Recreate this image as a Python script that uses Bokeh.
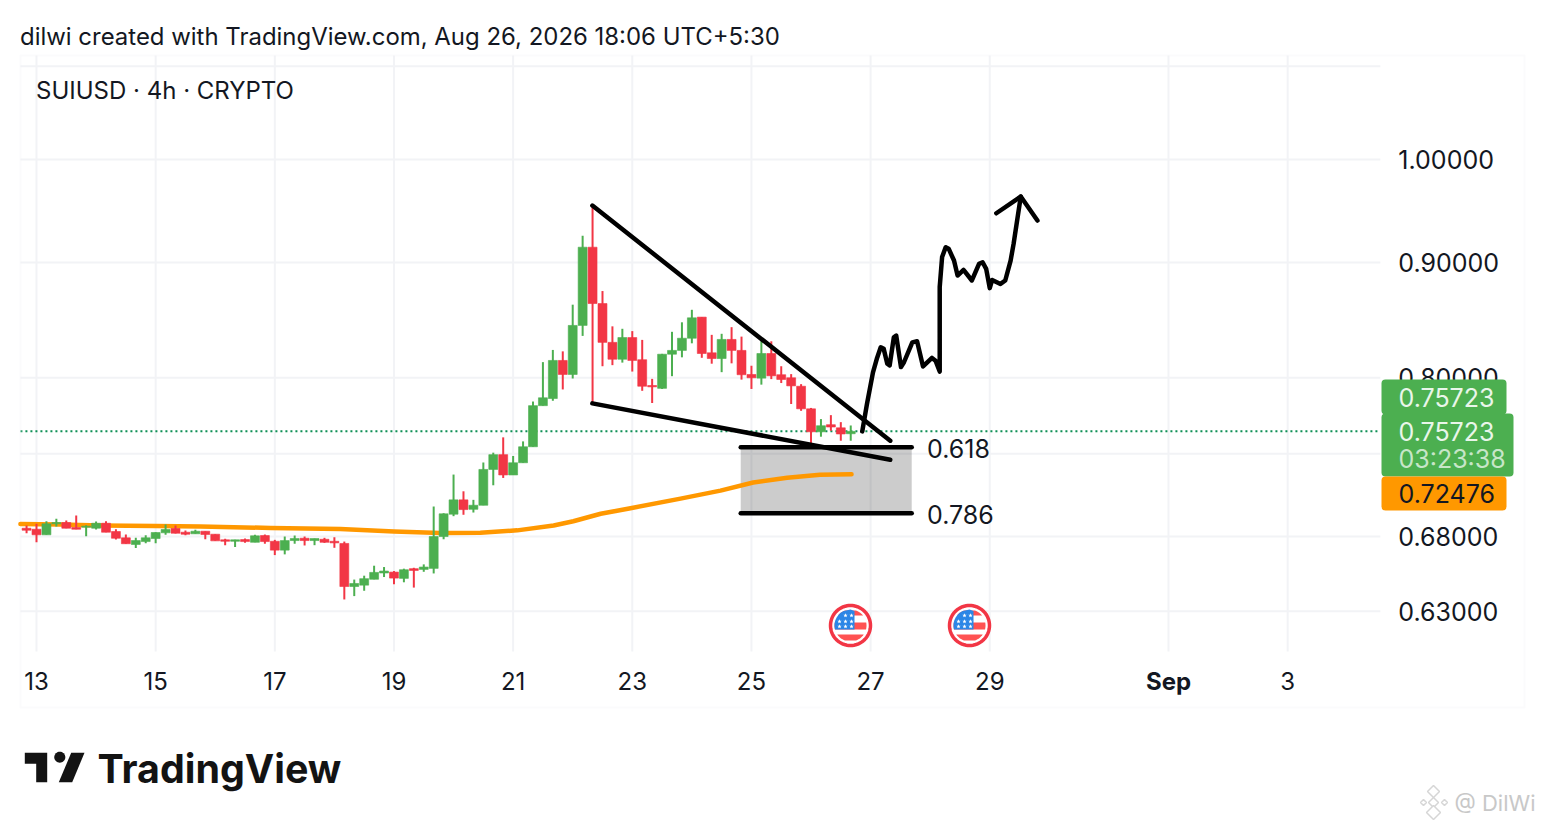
import numpy as np
from bokeh.plotting import figure
from bokeh.embed import file_html
from bokeh.resources import INLINE
from bokeh.models import (Range1d, FixedTicker, Label, BoxAnnotation, PolyAnnotation)

FONT = "Inter"

opens = [.6858,.6851,.6812,.6889,.6898,.6863,.6865,.6858,.6893,.6835,.6791,.6745,.6765,.6786,.6826,.6856,.6830,.6819,.6837,.6816,.6777,.6767,.6779,.6760,.6807,.6767,.6706,.6772,.6788,.6772,.6781,.6767,.6752,.6461,.6470,.6509,.6551,.6557,.6515,.6580,.6575,.6582,.6800,.6957,.7060,.6992,.7021,.7283,.7394,.7242,.7333,.7454,.7774,.7831,.8142,.8026,.8439,.9142,.8630,.8294,.8152,.8335,.8148,.7936,.7913,.8194,.8226,.8329,.8511,.8206,.8158,.8319,.8226,.8026,.7996,.8200,.8024,.7999,.7930,.7749,.7569,.7624,.7600,.7554]
highs = [.6877,.6889,.6907,.6924,.6912,.6947,.6879,.6905,.6907,.6851,.6814,.6791,.6809,.6830,.6884,.6877,.6842,.6847,.6837,.6816,.6784,.6777,.6786,.6812,.6814,.6777,.6800,.6807,.6800,.6786,.6791,.6795,.6765,.6507,.6533,.6600,.6591,.6564,.6580,.6586,.6609,.7012,.6964,.7245,.7122,.7060,.7335,.7409,.7526,.7384,.7495,.7807,.8128,.8230,.8218,.8620,.9250,.9550,.8741,.8431,.8410,.8390,.8315,.7990,.8197,.8384,.8466,.8575,.8511,.8358,.8367,.8424,.8343,.8098,.8337,.8303,.8094,.8029,.7947,.7756,.7668,.7699,.7644,.7618]
lows = [.6823,.6760,.6812,.6870,.6858,.6851,.6802,.6849,.6830,.6779,.6750,.6720,.6754,.6754,.6812,.6821,.6809,.6819,.6781,.6770,.6740,.6727,.6756,.6760,.6750,.6672,.6677,.6750,.6738,.6740,.6756,.6722,.6376,.6398,.6433,.6509,.6524,.6476,.6489,.6454,.6559,.6548,.6781,.6943,.6953,.6969,.7021,.7166,.7220,.7242,.7333,.7454,.7774,.7813,.7904,.7993,.8349,.7787,.8094,.8103,.8124,.8050,.7893,.7795,.7908,.8012,.8168,.8286,.8164,.8115,.8045,.8118,.7984,.7908,.7943,.7988,.7956,.7787,.7733,.7454,.7531,.7577,.7500,.7500]
closes = [.6844,.6812,.6889,.6898,.6858,.6851,.6872,.6893,.6830,.6788,.6750,.6772,.6791,.6828,.6849,.6823,.6816,.6837,.6814,.6770,.6767,.6777,.6765,.6805,.6765,.6706,.6772,.6786,.6772,.6786,.6760,.6756,.6461,.6481,.6513,.6555,.6564,.6517,.6573,.6568,.6591,.6800,.6960,.7060,.6990,.7021,.7283,.7394,.7242,.7333,.7454,.7774,.7837,.8142,.8026,.8439,.9142,.8630,.8294,.8152,.8335,.8142,.7930,.7925,.8194,.8226,.8329,.8505,.8200,.8158,.8319,.8226,.8024,.7999,.8200,.8015,.7985,.7933,.7749,.7569,.7616,.7606,.7552,.75723]
first_day = 12.8333
candles_per_day = 6

ma_days = [12.73,13.40,14.07,15.00,15.75,16.93,18.10,19.00,19.78,20.45,21.07,21.68,22.01,22.47,22.97,23.81,24.48,25.03,25.60,26.15,26.68]
ma_vals = [.6887,.6884,.6877,.6873,.6870,.6860,.6853,.6835,.6824,.6826,.6843,.6877,.6907,.6960,.7000,.7069,.7127,.7186,.7222,.7244,.72476]

tick_days = [13,15,17,19,21,23,25,27,29,32,34]
tick_names = ["13","15","17","19","21","23","25","27","29"," ","3"]
price_ticks = [1.1,1.0,0.9,0.8,0.74,0.68,0.63]
price_names = ["","1.00000","0.90000","0.80000","","0.68000","0.63000"]

wedge_upper_days = [22.33,27.33]
wedge_upper_vals = [.9540,.7500]
wedge_lower_days = [22.33,27.33]
wedge_lower_vals = [.7792,.7355]
zone_days = [24.82,27.69]
zone_vals = [.7451,.6963]
path_days = [26.86,26.94,27.04,27.11,27.17,27.22,27.28,27.32,27.39,27.43,27.51,27.56,27.70,27.78,27.88,28.03,28.09,28.16,28.16,28.20,28.26,28.31,28.40,28.46,28.56,28.70,28.82,28.88,28.94,29.00,29.04,29.18,29.26,29.35,29.40,29.52]
path_vals = [.7572,.7791,.8043,.8165,.8252,.8239,.8115,.8101,.8337,.8352,.8087,.8127,.8294,.8303,.8092,.8163,.8139,.8050,.8777,.9050,.9142,.9128,.9018,.8881,.8932,.8836,.8988,.9002,.8942,.8767,.8841,.8805,.8836,.9018,.9173,.9628]
arrow_days = [29.11,29.52,29.80]
arrow_vals = [.9465,.9628,.9395]

GREEN = "#4CAF50"; RED = "#F23645"; ORANGE = "#FF9800"; GRID = "#F2F3F6"

# pane limits in data terms (time axis end and price axis end)
pane_left_day, axis_day = 12.73, 35.556
pane_top_price, axis_price = 1.1122, 0.6045

p = figure(width=1544, height=828, y_axis_type="log", y_axis_location="right",
           x_range=Range1d(12.3958, 38.311), y_range=Range1d(.50443, 1.17662),
           toolbar_location=None, output_backend="svg", min_border=0,
           background_fill_color="white", border_fill_color="white")
p.outline_line_color = None
p.grid.visible = False

# axes
xa = p.xaxis[0]
xa.fixed_location = axis_price
xa.ticker = FixedTicker(ticks=tick_days)
xa.major_label_overrides = dict(zip(tick_days, tick_names))
xa.axis_line_color = None; xa.major_tick_line_color = None; xa.minor_tick_line_color = None
xa.major_label_text_font = FONT; xa.major_label_text_font_size = "24px"; xa.major_label_text_color = "#131722"
xa.major_label_standoff = 9
ya = p.yaxis[0]
ya.fixed_location = axis_day
ya.ticker = FixedTicker(ticks=price_ticks)
ya.major_label_overrides = dict(zip(price_ticks, price_names))
ya.axis_line_color = None; ya.major_tick_line_color = None; ya.minor_tick_line_color = None
ya.major_label_text_font = FONT; ya.major_label_text_font_size = "25px"; ya.major_label_text_color = "#131722"
ya.major_label_standoff = 12

# grid lines
p.segment(tick_days, [axis_price] * len(tick_days), tick_days, [pane_top_price] * len(tick_days), line_color=GRID, line_width=2, level="underlay")
p.segment([pane_left_day] * len(price_ticks), price_ticks, [axis_day] * len(price_ticks), price_ticks, line_color=GRID, line_width=2, level="underlay")

# outer pane border
p.add_layout(BoxAnnotation(left=20, right=1524, top=55, bottom=707, left_units="canvas", right_units="canvas",
                           top_units="canvas", bottom_units="canvas", fill_alpha=0, line_color=GRID, line_width=2, level="underlay"))

# last price dotted line
p.segment([pane_left_day], [closes[-1]], [axis_day], [closes[-1]], line_color="#0E8F55", line_width=2, line_dash="2 3", level="underlay")

# zone
p.quad(left=[zone_days[0]], right=[zone_days[1]], top=[zone_vals[0]], bottom=[zone_vals[1]], fill_color="#000000", fill_alpha=0.2, line_alpha=0)

# moving average
p.line(ma_days, ma_vals, line_color=ORANGE, line_width=4.5, line_cap="round", line_join="round")

# candles
o = np.array(opens); c = np.array(closes); h = np.array(highs); l = np.array(lows)
days = first_day + np.arange(len(o)) / candles_per_day
colors = [GREEN if ci >= oi else RED for oi, ci in zip(o, c)]
p.segment(days, h, days, l, line_color=colors, line_width=2)
p.vbar(x=days, width=0.15, top=np.maximum(o, c), bottom=np.minimum(o, c), fill_color=colors, line_color=colors, line_alpha=0.6, line_width=1)

# drawings
for xs, ys in ((wedge_upper_days, wedge_upper_vals), (wedge_lower_days, wedge_lower_vals), (path_days, path_vals), (arrow_days, arrow_vals)):
    p.line(xs, ys, line_color="#000000", line_width=4.5, line_cap="round", line_join="round")
for v in zone_vals:
    p.line(zone_days, [v, v], line_color="#000000", line_width=4.5, line_cap="round")

def lbl(text, x, y, size, color="#131722", style="normal", align="left", font=FONT, alpha=1.0, x_units="canvas"):
    p.add_layout(Label(x=x, y=y, x_units=x_units, y_units="canvas", text=text, text_font=font, text_font_size=f"{size}px",
                       text_color=color, text_font_style=style, text_align=align, text_baseline="middle", text_alpha=alpha))

lbl("0.618", 926.5, 448, 25)
lbl("0.786", 926.5, 514, 25)
lbl("Sep", 32, 681, 24, style="bold", align="center", x_units="data")
lbl("dilwi created with TradingView.com, Aug 26, 2026 18:06 UTC+5:30", 19.5, 36, 23.95)
lbl("SUIUSD · 4h · CRYPTO", 35.5, 90, 24)

# price tags
def tag(x0, x1, y0, y1, color):
    p.add_layout(BoxAnnotation(left=x0, right=x1, top=y0, bottom=y1, left_units="canvas", right_units="canvas",
                               top_units="canvas", bottom_units="canvas", fill_color=color, fill_alpha=1, line_alpha=0, border_radius=4))
tag(1381, 1506, 379, 414, GREEN)
tag(1381, 1513, 413, 476, GREEN)
tag(1381, 1506, 476, 510, ORANGE)
lbl("0.75723", 1398, 396.5, 25, color="#E9F6EA")
lbl("0.75723", 1398, 430.5, 25, color="#E9F6EA")
lbl("03:23:38", 1398, 458.5, 25, color="#FFFFFF", alpha=0.7)
lbl("0.72476", 1398, 492.5, 25, color="#131722")

# polygons on the canvas
def poly(pts, fill, line=None, lw=1, falpha=1.0):
    xs = [a for a, b in pts]; ys = [b for a, b in pts]
    p.add_layout(PolyAnnotation(xs=xs, ys=ys, xs_units="canvas", ys_units="canvas", fill_color=fill, fill_alpha=falpha,
                                line_color=line if line else fill, line_width=lw, line_alpha=1 if line else 0))

def circle_pts(cx, cy, r, n=72):
    t = np.linspace(0, 2 * np.pi, n, endpoint=False)
    return list(zip(cx + r * np.cos(t), cy + r * np.sin(t)))

def clip_band(cx, cy, r, x0, x1, y0, y1):
    ys = np.linspace(y0, y1, 14)
    right = []; left = []
    for yy in ys:
        d = yy - cy
        w = np.sqrt(max(r * r - d * d, 0))
        left.append((max(cx - w, x0), yy)); right.append((min(cx + w, x1), yy))
    return right + left[::-1]

def star(cx, cy, r=2.2):
    t = np.arange(10) * np.pi / 5 - np.pi / 2
    rr = np.where(np.arange(10) % 2 == 0, r, r * 0.45)
    return list(zip(cx + rr * np.cos(t), cy + rr * np.sin(t)))

def flag(cx, cy):
    poly(circle_pts(cx, cy, 20), "#FFFFFF", RED, 3.5)
    R = 16
    poly(clip_band(cx, cy, R, cx - 16, cx + 16, cy - 15, cy - 10), "#FF5252")
    poly(clip_band(cx, cy, R, cx - 16, cx + 16, cy - 3, cy + 4), "#FF5252")
    poly(clip_band(cx, cy, R, cx - 16, cx + 16, cy + 9, cy + 15), "#FF5252")
    poly(clip_band(cx, cy, R, cx - 16, cx + 4, cy - 16, cy + 4), "#2C86E6")
    for sx in (-11, -5, 1):
        for sy in (-10, -4, 1):
            if sx == -11 and sy == -10:
                continue
            poly(star(cx + sx, cy + sy), "#FFFFFF")
flag(850, 625)
flag(969, 625)

# TradingView logo
poly([(24.3, 752.3), (46.7, 752.3), (46.7, 781.7), (35.7, 781.7), (35.7, 763.3), (24.3, 763.3)], "#131313")
poly(circle_pts(59.3, 756.7, 5.5, 32), "#131313")
poly([(84, 752.3), (71.7, 781.7), (58.3, 781.7), (70.7, 752.3)], "#131313")
lbl("TradingView", 97, 768, 39.4, color="#131313", style="bold", font="Inter")

# watermark
WM = "#D6D6D6"
for (dx, dy, r) in ((1433, 791, 6), (1423, 802, 3), (1444, 802, 3), (1433, 802, 5), (1433, 812, 7)):
    poly([(dx, dy - r), (dx + r, dy), (dx, dy + r), (dx - r, dy)], "#FFFFFF", WM, 1.5)
lbl("@ DilWi", 1454, 802, 22, color="#C8C8C8")

open("out.html", "w").write(file_html(p, INLINE))
